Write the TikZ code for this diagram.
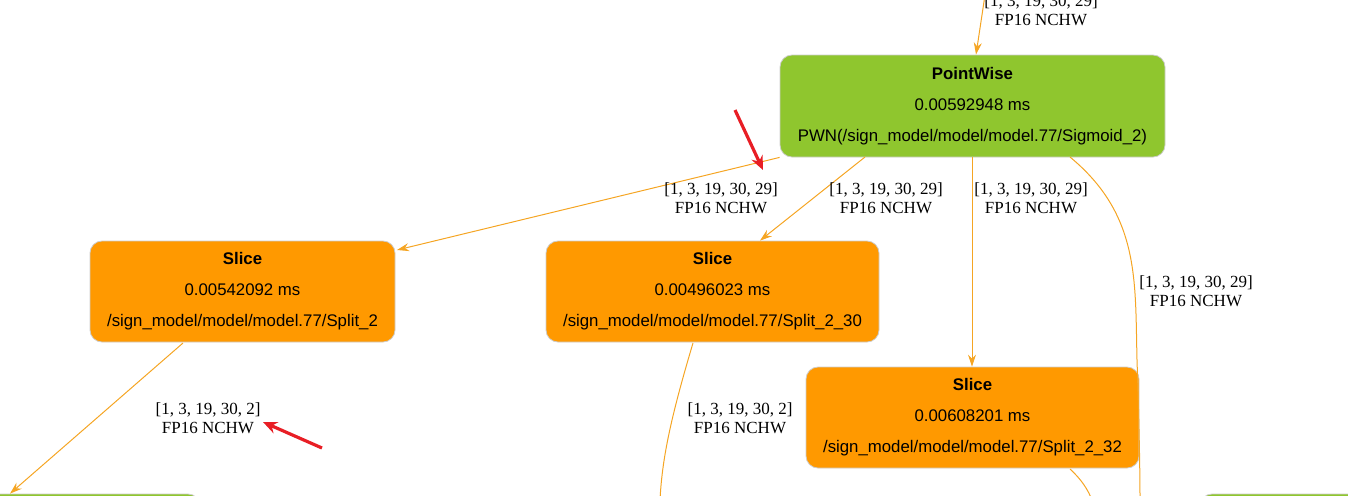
\documentclass[tikz,border=0pt]{standalone}
\usepackage{fontspec}
\setmainfont{Liberation Serif}
\newfontfamily\boxfont{Liberation Sans}
\usetikzlibrary{arrows.meta,positioning}
\definecolor{pwgreen}{RGB}{143,198,46}
\definecolor{slorange}{RGB}{255,153,0}
\definecolor{edgeorange}{RGB}{245,165,35}
\definecolor{markred}{RGB}{232,30,37}
\tikzset{
  layer/.style={draw=black!20, rounded corners=6pt, align=center, font=\boxfont\fontsize{8.4}{15.5}\selectfont, inner sep=0pt},
  pw/.style={layer, fill=pwgreen, minimum width=192.5pt, minimum height=51pt},
  slice/.style={layer, fill=slorange, minimum height=50.5pt},
  edge/.style={draw=edgeorange, line width=0.5pt, -{Stealth[length=6pt,width=4pt]}},
  tensor/.style={align=center, font=\fontsize{8.5}{9.5}\selectfont, inner sep=0pt},
  redmark/.style={draw=markred, line width=1.6pt, -{Stealth[length=7pt,width=6pt]}}
}
\begin{document}
\begin{tikzpicture}[x=0.5pt,y=-0.5pt]
\useasboundingbox (0,0) rectangle (1348,495);
% layers
\node[pw] (pw) at (972.5,106) {\textbf{PointWise}\\0.00592948 ms\\PWN(/sign\_model/model/model.77/Sigmoid\_2)};
\node[slice, minimum width=152.5pt] (s1) at (242.5,291.5) {\textbf{Slice}\\0.00542092 ms\\/sign\_model/model/model.77/Split\_2};
\node[slice, minimum width=166.5pt] (s2) at (712.5,291.5) {\textbf{Slice}\\0.00496023 ms\\/sign\_model/model/model.77/Split\_2\_30};
\node[slice, minimum width=166.5pt] (s3) at (972.5,417.5) {\textbf{Slice}\\0.00608201 ms\\/sign\_model/model/model.77/Split\_2\_32};
\node[pw, minimum width=120pt] (b1) at (80,545) {};
\node[pw, minimum width=120pt] (b2) at (1320,545) {};
% free ends
\coordinate (top) at (985,-5);
\coordinate (end4) at (1140,500);
\coordinate (end5) at (660,500);
\coordinate (end6) at (1092,500);
% edges
\draw[edge] (top) -- (pw.north -| 976,0);
\draw[edge] (pw.south west) -- (397,250);
\draw[edge] (865,157) -- (s2.north -| 760,0);
\draw[edge] (pw.south -| 972,0) -- (s3.north -| 972,0);
\draw[draw=edgeorange, line width=0.5pt] (1070,157) .. controls (1140,215) and (1135,280) .. (1137,360) .. controls (1139,420) and (1140,470) .. (end4);
\draw[edge] (183,343) -- (b1.north -| 10,0);
\draw[draw=edgeorange, line width=0.5pt] (693,343) .. controls (670,420) and (662,460) .. (end5);
\draw[draw=edgeorange, line width=0.5pt] (1070,469) .. controls (1082,480) and (1088,490) .. (end6);
% tensor labels
\node[tensor] (t0) at (1041,10) {[1, 3, 19, 30, 29]\\FP16 NCHW};
\node[tensor] (t1) at (721,198) {[1, 3, 19, 30, 29]\\FP16 NCHW};
\node[tensor] (t2) at (886,198) {[1, 3, 19, 30, 29]\\FP16 NCHW};
\node[tensor] (t3) at (1031,198) {[1, 3, 19, 30, 29]\\FP16 NCHW};
\node[tensor] (t4) at (1196,291) {[1, 3, 19, 30, 29]\\FP16 NCHW};
\node[tensor] (t5) at (208,418) {[1, 3, 19, 30, 2]\\FP16 NCHW};
\node[tensor] (t6) at (740,418) {[1, 3, 19, 30, 2]\\FP16 NCHW};
% red markers
\coordinate (m1) at (735,110);
\coordinate (m2) at (322,448);
\draw[redmark] (m1) -- (763,170);
\draw[redmark] (m2) -- (263,422);
\end{tikzpicture}
\end{document}
